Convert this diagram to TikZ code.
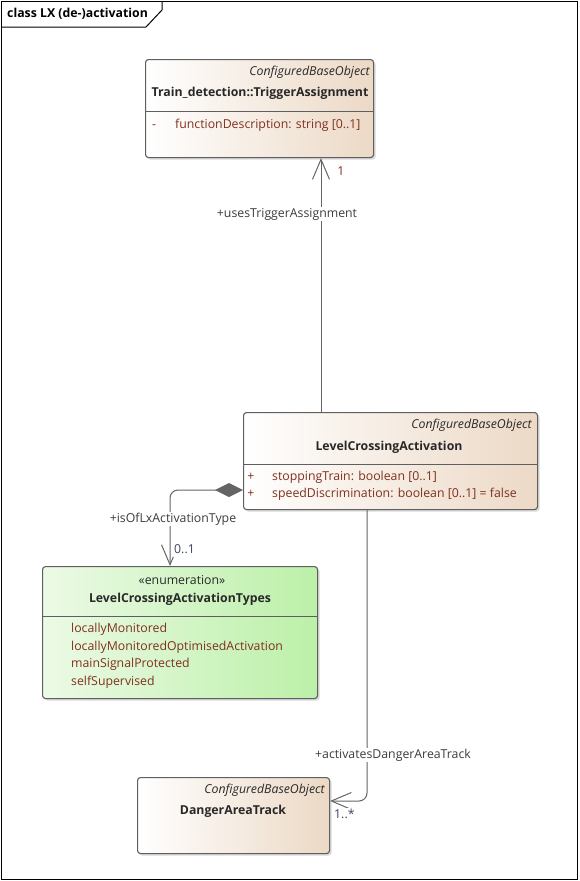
\documentclass[tikz,border=0pt]{standalone}
\usepackage{fontspec}
\setmainfont{Open Sans}
\usetikzlibrary{arrows.meta,shadows}

\definecolor{boxline}{RGB}{95,95,95}
\definecolor{linkline}{RGB}{100,100,100}
\definecolor{tanright}{RGB}{236,217,198}
\definecolor{greenleft}{RGB}{236,250,230}
\definecolor{greenright}{RGB}{188,240,168}
\definecolor{attrtext}{RGB}{128,48,30}
\definecolor{nametext}{RGB}{40,40,40}
\definecolor{linktext}{RGB}{60,60,60}
\definecolor{multtext}{RGB}{60,70,95}

\newcommand{\umlfont}{\fontsize{12.3}{14.5}\selectfont}

\tikzset{
  umlclass/.style={draw=boxline, line width=1.1pt, rounded corners=3pt,
    left color=white, right color=tanright, anchor=north west, inner sep=0pt,
    drop shadow={shadow xshift=2pt, shadow yshift=-2pt, opacity=0.3}},
  umlenum/.style={umlclass, left color=greenleft, right color=greenright},
  txt/.style={inner sep=0pt, text height=8.8pt, text depth=2.6pt},
  stereo/.style={txt, anchor=east, font=\umlfont\itshape, text=nametext},
  clsname/.style={txt, font=\umlfont\bfseries, text=nametext},
  attr/.style={txt, anchor=west, text=attrtext},
  vis/.style={txt, text=attrtext},
  sep/.style={draw=boxline, line width=1pt},
  linklabel/.style={txt, fill=white, inner sep=1.5pt, text=linktext},
  mult/.style={txt, anchor=west, fill=white, inner sep=1pt, text=multtext},
  assoc/.style={draw=linkline, line width=1pt, rounded corners=8pt,
    -{Straight Barb[length=20pt,width=17pt,line width=1pt]}},
  comp/.style={assoc,
    {Diamond[length=28pt,width=14pt,fill=linkline]}-{Straight Barb[length=20pt,width=17pt,line width=1pt]}}
}

\begin{document}
\begin{tikzpicture}[x=1pt,y=-1pt,font=\umlfont]
\useasboundingbox (0,0) rectangle (579,881);
\draw[line width=1pt] (1,1) rectangle (577,879);
\draw[line width=1pt] (1,27) -- (146,27) -- (162,10) -- (162,1);
\node[txt, anchor=west, font=\umlfont\bfseries] (frameTitle) at (7,14) {class LX (de-)activation};

% classes
\node[umlclass, minimum width=228pt, minimum height=98pt] (ta) at (145,59) {};
\node[stereo] (taStereo) at (370,72) {ConfiguredBaseObject};
\node[clsname] (taName) at (260,93) {Train\_detection::TriggerAssignment};
\draw[sep] (ta.west |- 0,111) -- (ta.east |- 0,111);
\node[vis] (taVis) at (154,125) {-};
\node[attr] (taAttr) at (175,125) {functionDescription: string [0..1]};

\node[umlclass, minimum width=294pt, minimum height=97pt] (lca) at (243,412) {};
\node[stereo] (lcaStereo) at (532,425) {ConfiguredBaseObject};
\node[clsname] (lcaName) at (389,447) {LevelCrossingActivation};
\draw[sep] (lca.west |- 0,464) -- (lca.east |- 0,464);
\node[vis] (lcaVis1) at (251,477) {+};
\node[attr] (lcaAttr1) at (272,477) {stoppingTrain: boolean [0..1]};
\node[vis] (lcaVis2) at (251,494) {+};
\node[attr] (lcaAttr2) at (272,494) {speedDiscrimination: boolean [0..1] = false};

\node[umlenum, minimum width=275pt, minimum height=132pt] (enum) at (42,566) {};
\node[txt, text=nametext] (enumStereo) at (182,581) {«enumeration»};
\node[clsname] (enumName) at (180,599) {LevelCrossingActivationTypes};
\draw[sep] (enum.west |- 0,616) -- (enum.east |- 0,616);
\node[attr] (enumLit1) at (71,629) {locallyMonitored};
\node[attr] (enumLit2) at (71,647) {locallyMonitoredOptimisedActivation};
\node[attr] (enumLit3) at (71,664) {mainSignalProtected};
\node[attr] (enumLit4) at (71,682) {selfSupervised};

\node[umlclass, minimum width=192pt, minimum height=76pt] (dat) at (137,777) {};
\node[stereo] (datStereo) at (325,790) {ConfiguredBaseObject};
\node[clsname] (datName) at (233,811) {DangerAreaTrack};

% links
\coordinate (usesX) at (321,0);
\coordinate (isOfX) at (170,0);
\coordinate (actX) at (367,0);
\draw[assoc] (usesX |- lca.north) -- (usesX |- ta.south);
\draw[comp] (lca.west |- 0,490) -- (isOfX |- 0,490) -- (isOfX |- enum.north);
\draw[assoc] (actX |- lca.south) -- (actX |- 0,801) -- (dat.east |- 0,801);

\node[linklabel] (usesRole) at (287,214) {+usesTriggerAssignment};
\node[vis] (usesMult) at (341,172) {1};
\node[linklabel] (isOfRole) at (173,519) {+isOfLxActivationType};
\node[mult] (isOfMult) at (173,550) {0..1};
\node[linklabel] (actRole) at (393,755) {+activatesDangerAreaTrack};
\node[mult] (actMult) at (333,815) {1..*};
\end{tikzpicture}
\end{document}
